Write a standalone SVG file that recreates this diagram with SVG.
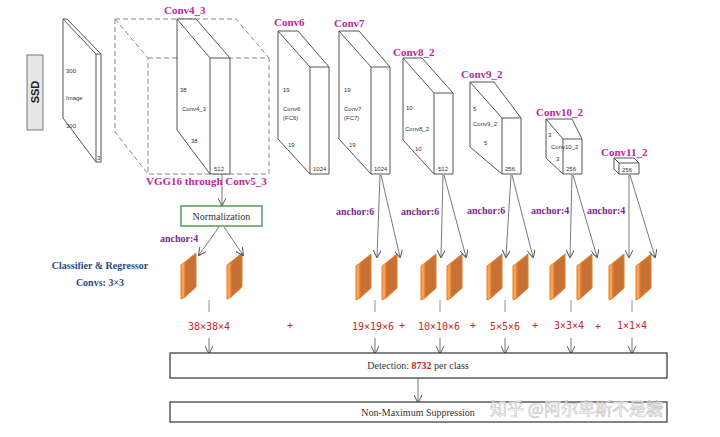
<svg xmlns="http://www.w3.org/2000/svg" width="720" height="437" viewBox="0 0 720 437">
<style>
.s{fill:#fff;stroke:#555;stroke-width:1}
.d{fill:none;stroke:#888;stroke-width:1;stroke-dasharray:5,3}
.t{font-family:"Liberation Sans",Arial,sans-serif;font-size:6px;fill:#333}
.m{font-family:"Liberation Serif",serif;font-weight:bold;font-size:11px;fill:#c0279c}
.a{font-family:"Liberation Serif",serif;font-weight:bold;font-size:10px;fill:#7b2a8c}
.r{font-family:"DejaVu Sans Mono","Liberation Mono",monospace;font-size:10px;fill:#c62828}
.c{stroke:#555;stroke-width:0.8;fill:none;marker-end:url(#ah)}
.o{fill:#c87137;stroke:#e87d1e;stroke-width:1}
.ol{fill:#f4a460;stroke:#e87d1e;stroke-width:1}
</style>
<defs>
<marker id="ah" markerWidth="8" markerHeight="8" refX="7" refY="4" orient="auto" markerUnits="userSpaceOnUse"><path d="M0,0 L8,4 L0,8" fill="none" stroke="#555" stroke-width="1"/></marker>
<g id="slab"><polygon class="ol" points="0,12 4,9 4,44 0,46"/><polygon class="o" points="4,9 15,0 15,34 4,44"/></g>
</defs>
<rect width="720" height="437" fill="#fff"/>
<g id="ssd"><rect x="27" y="55" width="16" height="75" fill="#e6e6e6" stroke="#777"/><text transform="translate(39,92) rotate(-90)" text-anchor="middle" font-family="Liberation Sans,Arial,sans-serif" font-size="11" font-weight="bold" fill="#222">SSD</text></g>
<g id="image"><polygon class="s" points="63,19 67,19 101,54 101,162 96,162 63,118"/><line x1="63" y1="19" x2="96" y2="54" stroke="#555"/><line x1="96" y1="54" x2="101" y2="54" stroke="#555"/><line x1="96" y1="54" x2="96" y2="162" stroke="#555"/>
<text class="t" x="66" y="73">300</text><text class="t" x="66" y="100">Image</text><text class="t" x="66" y="128">300</text><text class="t" x="97" y="160">3</text></g>
<g id="vgg"><path class="d" d="M115,19 H236 L269,58 M115,19 L148,58 M115,19 V132 L148,174 M148,58 H269 V174 H148 Z"/>
<polygon class="s" points="177,19 196,19 230,58 230,174 210,174 177,130"/><path d="M177,19 L210,58 H230 M210,58 V174" stroke="#555" fill="none"/>
<text class="t" x="180" y="92">38</text><text class="t" x="182" y="111">Conv4_3</text><text class="t" x="191" y="143">38</text><text class="t" x="214" y="171">512</text>
<text class="m" x="164" y="14">Conv4_3</text><text class="m" x="146" y="185">VGG16 through Conv5_3</text></g>
<g id="conv6"><polygon class="s" points="278,31 298,31 329,67 329,174 310,174 278,139"/><path d="M278,31 L310,67 H329 M310,67 V174" stroke="#555" fill="none"/>
<text class="t" x="283" y="92">19</text><text class="t" x="283" y="111">Conv6</text><text class="t" x="283" y="120">(FC6)</text><text class="t" x="288" y="147">19</text><text class="t" x="313" y="171">1024</text><text class="m" x="274" y="26">Conv6</text></g>
<g id="conv7"><polygon class="s" points="339,31 359,31 390,67 390,174 371,174 339,139"/><path d="M339,31 L371,67 H390 M371,67 V174" stroke="#555" fill="none"/>
<text class="t" x="344" y="92">19</text><text class="t" x="344" y="111">Conv7</text><text class="t" x="344" y="120">(FC7)</text><text class="t" x="349" y="147">19</text><text class="t" x="374" y="171">1024</text><text class="m" x="334" y="27">Conv7</text></g>
<g id="conv8"><polygon class="s" points="403,58 422,58 453,93 453,174 434,174 403,140"/><path d="M403,58 L434,93 H453 M434,93 V174" stroke="#555" fill="none"/>
<text class="t" x="406" y="110">10</text><text class="t" x="405" y="131">Conv8_2</text><text class="t" x="415" y="151">10</text><text class="t" x="438" y="171">512</text><text class="m" x="393" y="56">Conv8_2</text></g>
<g id="conv9"><polygon class="s" points="470,82 494,82 521,118 521,174 502,174 470,147"/><path d="M470,82 L502,118 H521 M502,118 V174" stroke="#555" fill="none"/>
<text class="t" x="473" y="111">5</text><text class="t" x="473" y="126">Conv9_2</text><text class="t" x="484" y="145">5</text><text class="t" x="505" y="171">256</text><text class="m" x="461" y="78">Conv9_2</text></g>
<g id="conv10"><polygon class="s" points="546,119 572,119 582,139 582,174 563,174 546,158"/><path d="M546,119 L563,139 H582 M563,139 V174" stroke="#555" fill="none"/>
<text class="t" x="548" y="137">3</text><text class="t" x="551" y="149">Conv10_2</text><text class="t" x="556" y="161">3</text><text class="t" x="566" y="171">256</text><text class="m" x="536" y="116">Conv10_2</text></g>
<g id="conv11"><polygon class="s" points="614,158 634,158 639,163 639,174 619,174 614,169"/><path d="M614,158 L619,163 H639 M619,163 V174" stroke="#555" fill="none"/>
<text class="t" x="622" y="172">256</text><text class="m" x="601" y="156">Conv11_2</text></g>
<g id="norm"><rect x="181" y="206" width="81" height="20" fill="#fff" stroke="#3a8a3a" stroke-width="1.3"/><text x="221.5" y="220" text-anchor="middle" font-family="Liberation Serif,serif" font-size="10" fill="#333">Normalization</text></g>
<g id="labels">
<text x="100" y="269" text-anchor="middle" font-family="Liberation Serif,serif" font-weight="bold" font-size="10" fill="#2c4a7a">Classifier &amp; Regressor</text>
<text x="100" y="286" text-anchor="middle" font-family="Liberation Serif,serif" font-weight="bold" font-size="10" fill="#2c4a7a">Convs: 3×3</text>
<text class="a" x="160" y="242">anchor:4</text><text class="a" x="336" y="215">anchor:6</text><text class="a" x="401" y="215">anchor:6</text><text class="a" x="467" y="214">anchor:6</text><text class="a" x="531" y="214">anchor:4</text><text class="a" x="587" y="214">anchor:4</text>
</g>
<g id="slabs">
<use href="#slab" x="181" y="253"/><use href="#slab" x="227" y="253"/>
<use href="#slab" x="356" y="254"/><use href="#slab" x="382" y="254"/>
<use href="#slab" x="421" y="254"/><use href="#slab" x="447" y="254"/>
<use href="#slab" x="487" y="254"/><use href="#slab" x="513" y="254"/>
<use href="#slab" x="550" y="254"/><use href="#slab" x="577" y="254"/>
<use href="#slab" x="609" y="254"/><use href="#slab" x="636" y="254"/>
</g>
<g id="connectors">
<line class="c" x1="222" y1="175" x2="222" y2="205"/>
<line class="c" x1="219" y1="227" x2="199" y2="255"/><line class="c" x1="224" y1="227" x2="243" y2="255"/>
<line class="c" x1="380" y1="175" x2="377" y2="257"/><line class="c" x1="381" y1="175" x2="400" y2="257"/>
<line class="c" x1="443" y1="175" x2="441" y2="257"/><line class="c" x1="444" y1="175" x2="466" y2="257"/>
<line class="c" x1="511" y1="175" x2="506" y2="257"/><line class="c" x1="512" y1="175" x2="533" y2="257"/>
<line class="c" x1="572" y1="175" x2="570" y2="257"/><line class="c" x1="573" y1="175" x2="597" y2="257"/>
<line class="c" x1="629" y1="175" x2="629" y2="257"/><line class="c" x1="630" y1="175" x2="655" y2="257"/>
<g stroke="#777" stroke-width="0.8"><line x1="209" y1="300" x2="209" y2="312"/><line x1="375" y1="300" x2="375" y2="312"/><line x1="440" y1="300" x2="440" y2="312"/><line x1="505" y1="300" x2="505" y2="312"/><line x1="571" y1="300" x2="571" y2="312"/><line x1="632" y1="300" x2="632" y2="312"/></g>
<line class="c" x1="209" y1="338" x2="209" y2="353"/><line class="c" x1="375" y1="338" x2="375" y2="353"/><line class="c" x1="440" y1="338" x2="440" y2="353"/><line class="c" x1="505" y1="338" x2="505" y2="353"/><line class="c" x1="571" y1="338" x2="571" y2="353"/><line class="c" x1="632" y1="338" x2="632" y2="353"/>
<line class="c" x1="418" y1="378" x2="418" y2="402"/>
</g>
<g id="sums">
<text class="r" x="209" y="330" text-anchor="middle">38×38×4</text><text class="r" x="290" y="329" text-anchor="middle">+</text>
<text class="r" x="373" y="330" text-anchor="middle">19×19×6</text><text class="r" x="402" y="329" text-anchor="middle">+</text>
<text class="r" x="439" y="330" text-anchor="middle">10×10×6</text><text class="r" x="473" y="329" text-anchor="middle">+</text>
<text class="r" x="505" y="330" text-anchor="middle">5×5×6</text><text class="r" x="535" y="329" text-anchor="middle">+</text>
<text class="r" x="569" y="329" text-anchor="middle">3×3×4</text><text class="r" x="598" y="330" text-anchor="middle">+</text>
<text class="r" x="632" y="329" text-anchor="middle">1×1×4</text>
</g>
<g id="detection"><rect x="170" y="353" width="497" height="25" fill="#fff" stroke="#333" stroke-width="1.2"/><text x="418" y="369" text-anchor="middle" font-family="Liberation Serif,serif" font-size="10" fill="#333">Detection: <tspan fill="#c62828" font-weight="bold">8732</tspan> per class</text></g>
<g id="nms"><rect x="170" y="402" width="497" height="20" fill="#fff" stroke="#333" stroke-width="1.2"/><text x="418" y="416" text-anchor="middle" font-family="Liberation Serif,serif" font-size="10" fill="#333">Non-Maximum Suppression</text></g>
<text x="490" y="415" font-family="Noto Sans CJK SC,sans-serif" font-size="17" fill="#fff" stroke="#bbb" stroke-width="0.6" opacity="0.9">知乎 @阿尔卑斯不是糖</text>
</svg>
